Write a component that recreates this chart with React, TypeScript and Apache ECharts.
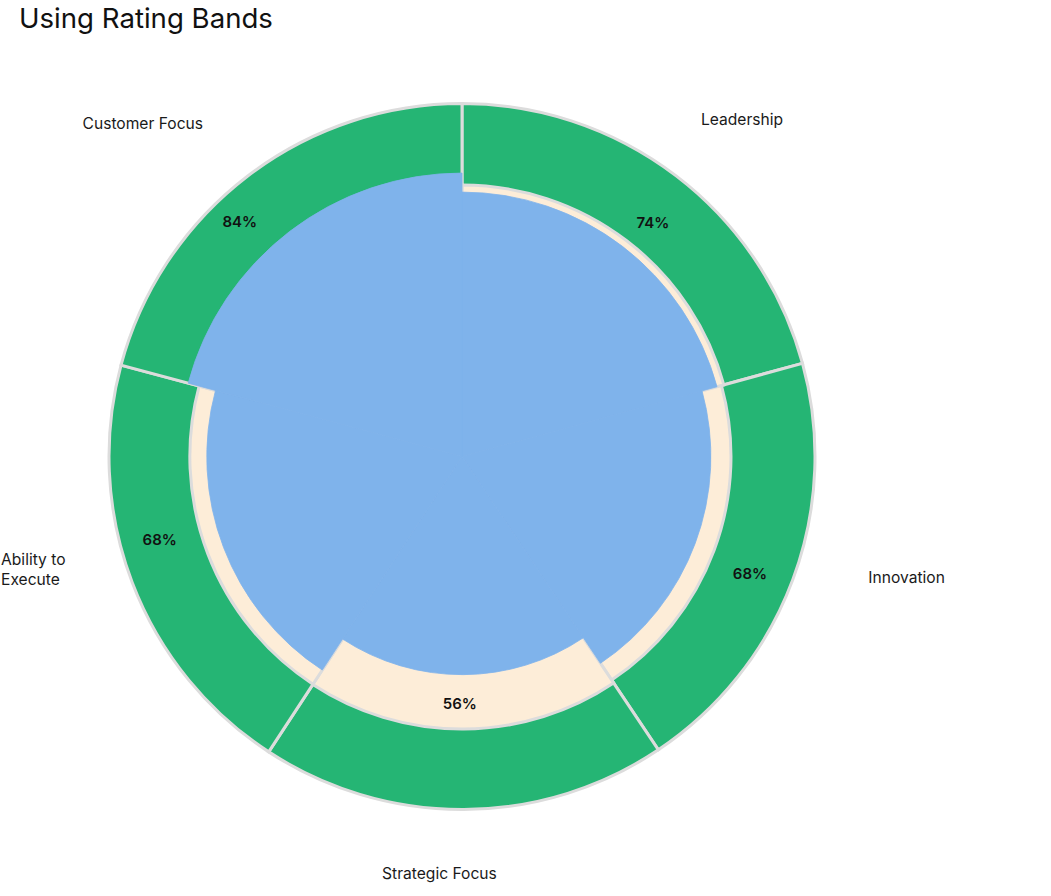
import React, { useEffect, useRef } from "react";
import * as echarts from "echarts";

// ---- data ----
const TITLE = "Using Rating Bands";
const CATEGORIES = ["Leadership", "Innovation", "Strategic Focus", "Ability to Execute", "Customer Focus"];
const SCORES = [74, 68, 56, 68, 84];
// angular width of each category's sector, degrees (clockwise from 12 o'clock)
const ANGLE_SPANS = [74.7, 71.5, 67.0, 71.8, 75.0];
// band extents on a 0-100 radial scale
const LOW_BAND = [74.9, 70.5, 61.8, 72.3, 80.3];
const MID_BAND = [76.9, 76.2, 77.2, 77.1, 77.0];
const HIGH_BAND = [100, 100, 100, 100, 100];

// ---- styling ----
const FONT = "Inter, 'DejaVu Sans', sans-serif";
const GREEN = "#25b574";
const BEIGE = "#fdedd8";
const BLUE = "#7fb3eb";
const EDGE = "#dcdcdc";
const NAME_GAP = 58; // px beyond the outer edge
const SCORE_INSET = 40; // px inside the outer edge

const NAME_LABEL_STYLE: any[] = [
  { align: "left", nudge: [-10.4, -10.3] },
  { align: "left", nudge: [21.2, -22.4] },
  { align: "center", nudge: [-24.7, 6] },
  { align: "left", nudge: [-77, -34.1], width: 80 },
  { align: "right", nudge: [-8.8, -7.4] },
];
const SCORE_LABEL_NUDGE = [
  [1.1, 14.8],
  [-5.3, 7.4],
  [-3.9, -66.2],
  [-9.9, -28.7],
  [-31.7, 13.3],
];

const starts: number[] = [];
ANGLE_SPANS.reduce((acc, w) => {
  starts.push(acc);
  return acc + w;
}, 0);
const ends = ANGLE_SPANS.map((w, i) => starts[i] + w);

export default function App() {
  const ref = useRef<HTMLDivElement>(null);

  useEffect(() => {
    document.body.style.margin = "0";
    if (!ref.current) return;
    const chart = echarts.init(ref.current, undefined, { renderer: "svg" });

    const sectorRenderer = (fill: string, stroke: string, lineWidth: number) =>
      (params: any, api: any) => {
        const cs = params.coordSys;
        const a0 = api.value(0);
        const a1 = api.value(1);
        const rv = api.value(2);
        const p0 = api.coord([rv, a0]);
        const p1 = api.coord([rv, a1]);
        const r = Math.hypot(p0[0] - cs.cx, p0[1] - cs.cy);
        const s = Math.atan2(p0[1] - cs.cy, p0[0] - cs.cx);
        let e = Math.atan2(p1[1] - cs.cy, p1[0] - cs.cx);
        if (e <= s) e += Math.PI * 2;
        return {
          type: "sector",
          shape: { cx: cs.cx, cy: cs.cy, r0: 0, r, startAngle: s, endAngle: e, clockwise: true },
          style: { fill, stroke, lineWidth },
        };
      };

    const bandData = (band: number[]) => band.map((v, i) => [starts[i], ends[i], v, i]);

    const anchorAt = (params: any, api: any, value: number, angle: number, px: number) => {
      const cs = params.coordSys;
      const p = api.coord([value, angle]);
      const dx = p[0] - cs.cx;
      const dy = p[1] - cs.cy;
      const r = Math.hypot(dx, dy);
      const k = (r + px) / r;
      return [cs.cx + dx * k, cs.cy + dy * k];
    };

    const option: any = {
      animation: false,
      backgroundColor: "#ffffff",
      title: {
        text: TITLE,
        left: 19,
        top: 4,
        padding: 0,
        textStyle: { fontFamily: FONT, fontSize: 27.6, fontWeight: "normal", color: "#111111" },
      },
      polar: { center: [462, 456.5], radius: [0, 353] },
      angleAxis: {
        type: "value",
        min: 0,
        max: 360,
        startAngle: 90,
        clockwise: true,
        axisLine: { show: false },
        axisTick: { show: false },
        axisLabel: { show: false },
        splitLine: { show: false },
      },
      radiusAxis: {
        type: "value",
        min: 0,
        max: 100,
        axisLine: { show: false },
        axisTick: { show: false },
        axisLabel: { show: false },
        splitLine: { show: false },
      },
      series: [
        {
          type: "custom",
          name: "High",
          coordinateSystem: "polar",
          renderItem: sectorRenderer(GREEN, EDGE, 3),
          encode: { angle: [0, 1], radius: 2 },
          data: bandData(HIGH_BAND),
        },
        {
          type: "custom",
          name: "Mid",
          coordinateSystem: "polar",
          renderItem: sectorRenderer(BEIGE, EDGE, 3),
          encode: { angle: [0, 1], radius: 2 },
          data: bandData(MID_BAND),
        },
        {
          type: "custom",
          name: "Low",
          coordinateSystem: "polar",
          renderItem: sectorRenderer(BLUE, BLUE, 0.8),
          encode: { angle: [0, 1], radius: 2 },
          data: bandData(LOW_BAND),
        },
        {
          type: "custom",
          name: "Labels",
          coordinateSystem: "polar",
          silent: true,
          encode: { angle: [0, 1], radius: 2 },
          data: bandData(HIGH_BAND),
          renderItem: (params: any, api: any) => {
            const i = params.dataIndex;
            const mid = (api.value(0) + api.value(1)) / 2;
            const outer = api.value(2);
            const ns = NAME_LABEL_STYLE[i];
            const pn = anchorAt(params, api, outer, mid, NAME_GAP);
            const ps = anchorAt(params, api, outer, mid, -SCORE_INSET);
            const nameStyle: any = {
              text: CATEGORIES[i],
              fill: "#1a1a1a",
              fontFamily: FONT,
              fontSize: 15.6,
              lineHeight: 20,
              align: ns.align,
              verticalAlign: "middle",
            };
            if (ns.width) {
              nameStyle.width = ns.width;
              nameStyle.overflow = "break";
            }
            return {
              type: "group",
              children: [
                {
                  type: "text",
                  x: pn[0] + ns.nudge[0],
                  y: pn[1] + ns.nudge[1],
                  style: nameStyle,
                },
                {
                  type: "text",
                  x: ps[0] + SCORE_LABEL_NUDGE[i][0],
                  y: ps[1] + SCORE_LABEL_NUDGE[i][1],
                  style: {
                    text: SCORES[i] + "%",
                    fill: "#111111",
                    fontFamily: FONT,
                    fontSize: 15,
                    fontWeight: 600,
                    align: "center",
                    verticalAlign: "middle",
                  },
                },
              ],
            };
          },
        },
      ],
    };

    chart.setOption(option);
    return () => chart.dispose();
  }, []);

  return <div ref={ref} style={{ width: 1051, height: 896 }} />;
}
